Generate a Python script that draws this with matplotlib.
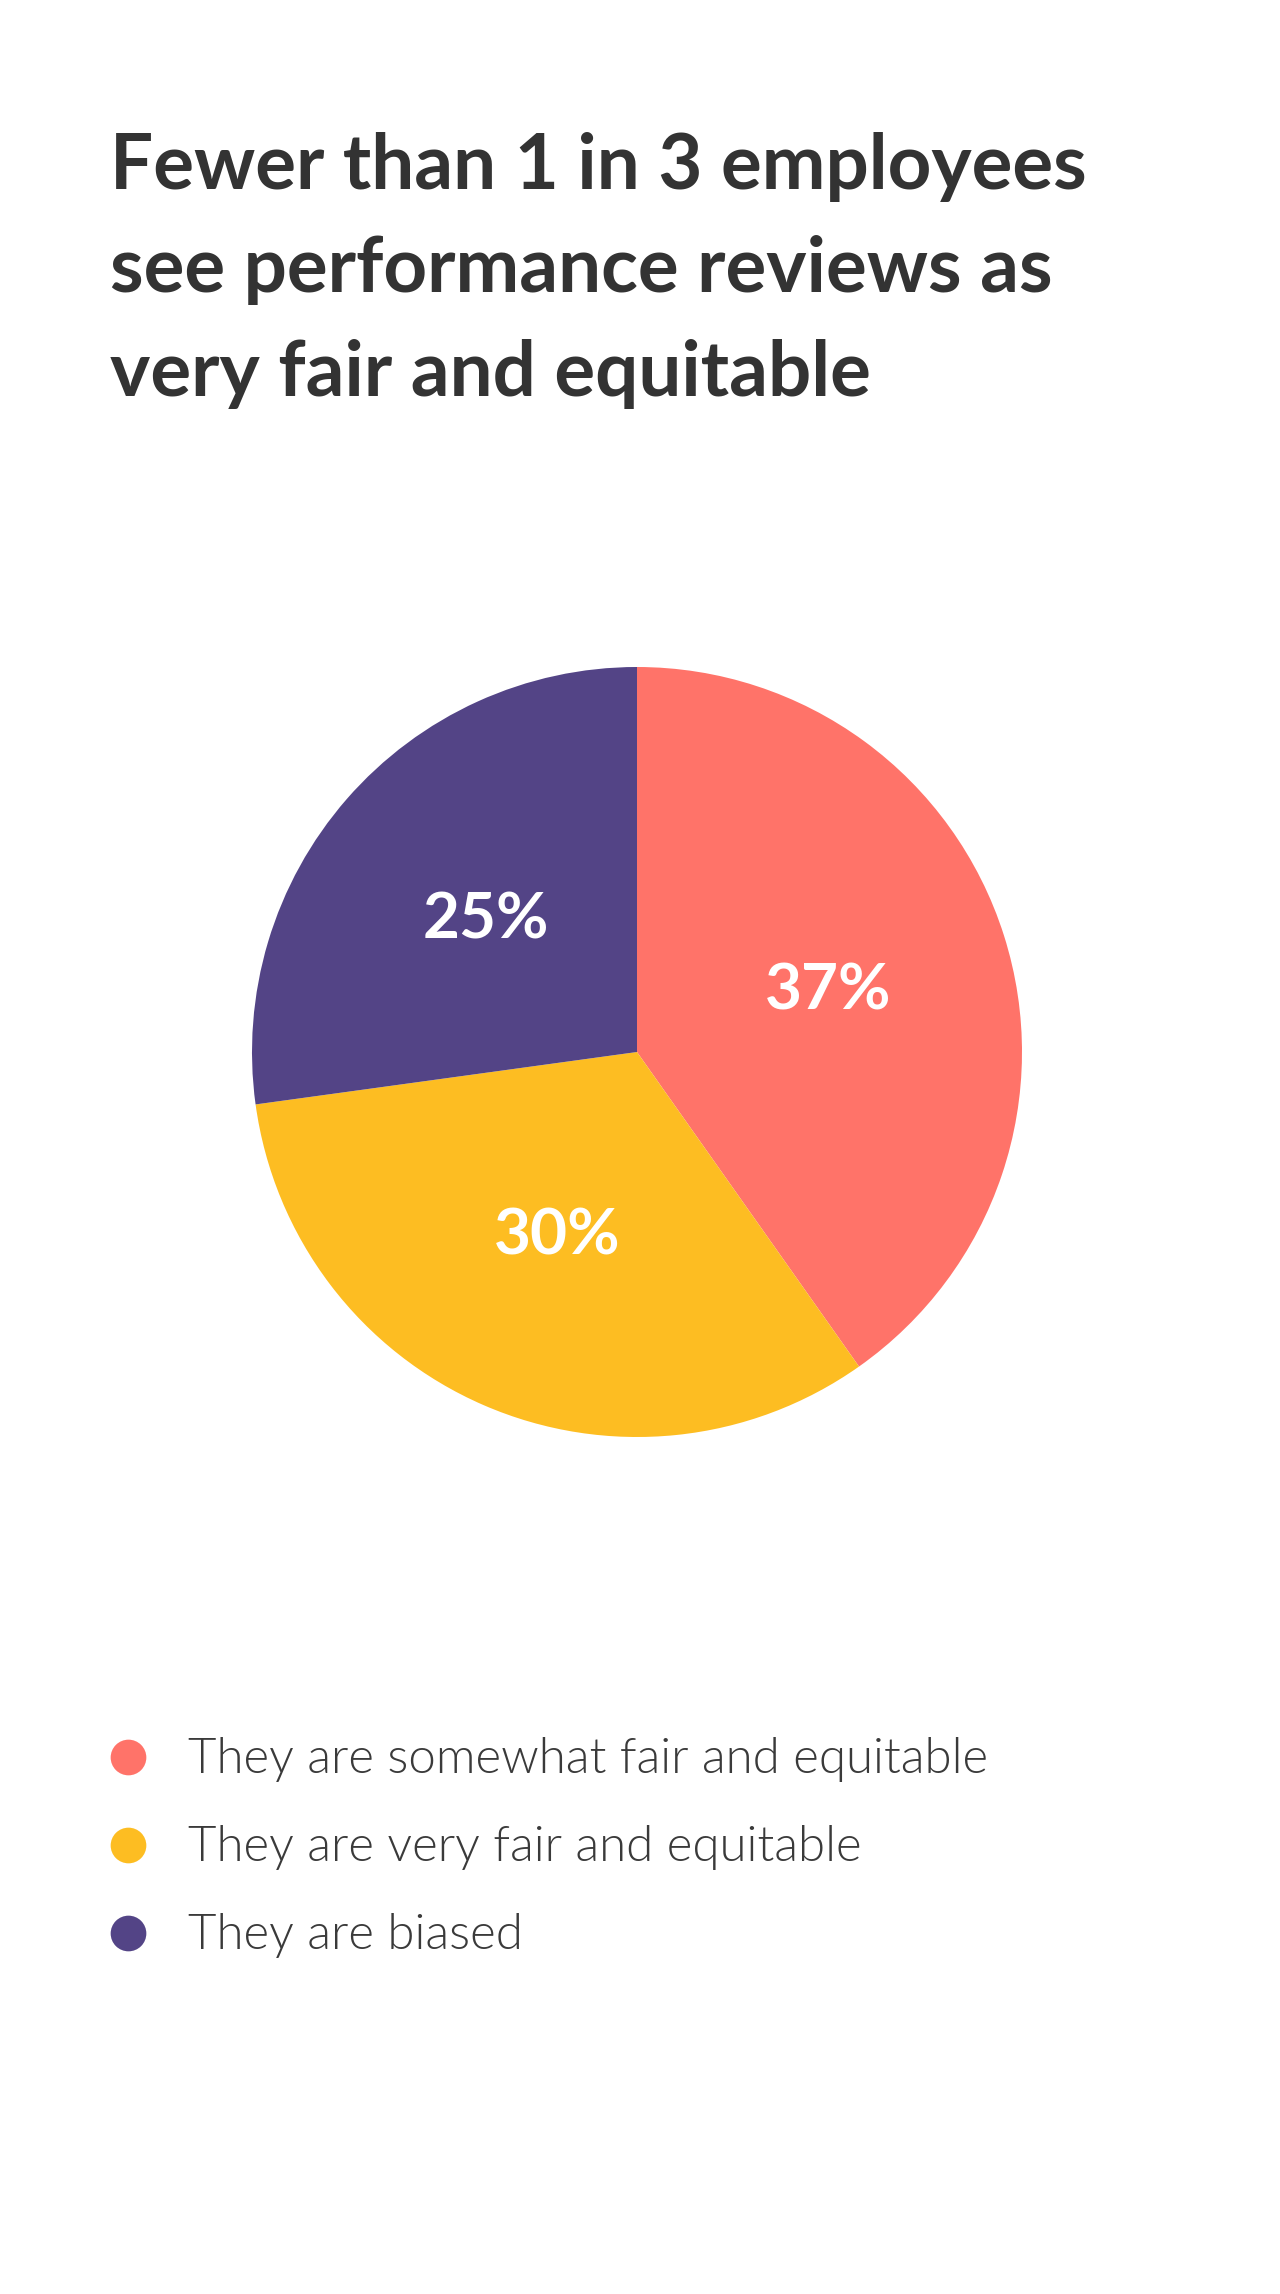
import matplotlib
matplotlib.use("Agg")
import matplotlib.pyplot as plt

# ---- data ----
title_lines = ["Fewer than 1 in 3 employees",
               "see performance reviews as",
               "very fair and equitable"]
categories = ["They are somewhat fair and equitable",
              "They are very fair and equitable",
              "They are biased"]
values = [37, 30, 25]
colors = ["#FF7369", "#FDBD22", "#534486"]

W, H = 1280, 2294
fig = plt.figure(figsize=(W / 100, H / 100), dpi=100)
fig.patch.set_facecolor("white")

fam = ["Lato", "DejaVu Sans"]

# pie axes
cx, cy, r = 637, 1052, 385
pax = fig.add_axes([(cx - r) / W, 1 - (cy + r) / H, 2 * r / W, 2 * r / H])
wedges, texts, autotexts = pax.pie(
    values, colors=colors, startangle=90, counterclock=False,
    autopct=lambda p: f"{p * sum(values) / 100:.0f}%",
    pctdistance=0.52, wedgeprops=dict(linewidth=0),
    textprops=dict(color="white", fontsize=46, fontweight="bold", family=fam))
pax.set_xlim(-1, 1)
pax.set_ylim(-1, 1)
pax.set_aspect("equal")
pax.axis("off")

# overlay axes in pixel coordinates
oax = fig.add_axes([0, 0, 1, 1])
oax.set_xlim(0, W)
oax.set_ylim(H, 0)
oax.axis("off")
oax.patch.set_alpha(0)

baselines = [189, 292, 396]
for line, yb in zip(title_lines, baselines):
    oax.text(110, yb, line, fontsize=55, fontweight="bold", color="#333333",
             family=fam, va="baseline", ha="left")

leg_y = [1757, 1845, 1933]
for cat, col, yy in zip(categories, colors, leg_y):
    oax.scatter([128], [yy], s=660, color=col, linewidths=0)
    oax.text(188, yy + 2, cat, fontsize=35.5, fontweight=300, color="#3a3a3a",
             family=fam, va="center", ha="left")

fig.savefig("out.png", dpi=100, facecolor="white")
